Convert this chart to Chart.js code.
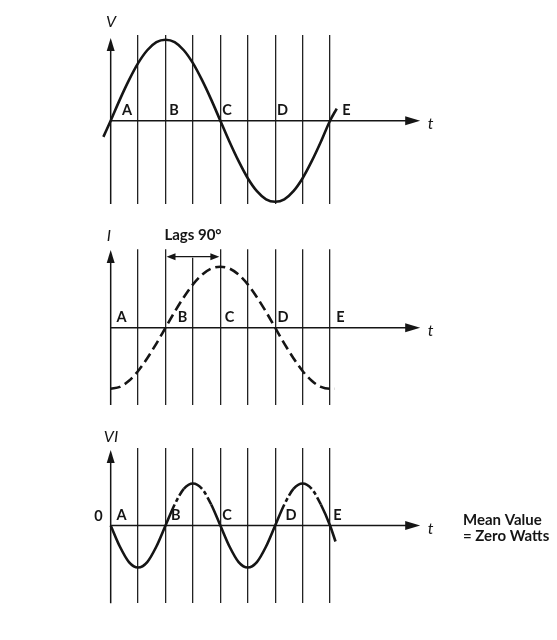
<!DOCTYPE html>
<html>
<head>
<meta charset="utf-8">
<script src="https://cdn.jsdelivr.net/npm/chart.js@4"></script>
<style>
  html, body { margin: 0; padding: 0; background: #fff; }
  #wrap { position: relative; width: 557px; height: 640px; }
  #wrap canvas { position: absolute; left: 0; top: 0; }
</style>
</head>
<body>
<div id="wrap">
  <canvas id="c-v" width="557" height="640"></canvas>
  <canvas id="c-i" width="557" height="640"></canvas>
  <canvas id="c-vi" width="557" height="640"></canvas>
</div>
<script>
// Phase angle (degrees) along the time axis, and the values

const vAngles = [-12, 0, 15, 30, 45, 60, 75, 90, 105, 120, 135, 150, 165, 180,
  195, 210, 225, 240, 255, 270, 285, 300, 315, 330, 345, 360, 371];
const vValues = [-0.2, 0, 0.26, 0.5, 0.71, 0.87, 0.97, 1, 0.97, 0.87, 0.71, 0.5, 0.26, 0,
  -0.26, -0.5, -0.71, -0.87, -0.97, -1, -0.97, -0.87, -0.71, -0.5, -0.26, 0, 0.15];

const iAngles = [0, 15, 30, 45, 60, 75, 90, 105, 120, 135, 150, 165, 180,
  195, 210, 225, 240, 255, 270, 285, 300, 315, 330, 345, 360, 368];
const iValues = [-1, -0.97, -0.87, -0.71, -0.5, -0.26, 0, 0.26, 0.5, 0.71, 0.87, 0.97, 1,
  0.97, 0.87, 0.71, 0.5, 0.26, 0, -0.26, -0.5, -0.71, -0.87, -0.97, -1, -1];

const viAngles = [0, 15, 30, 45, 60, 75, 90, 105, 120, 135, 150, 165, 180,
  195, 210, 225, 240, 255, 270, 285, 300, 315, 330, 345, 360, 369];
const viValues = [0, -0.5, -0.87, -1, -0.87, -0.5, 0, 0.5, 0.87, 1, 0.87, 0.5, 0,
  -0.5, -0.87, -1, -0.87, -0.5, 0, 0.5, 0.87, 1, 0.87, 0.5, 0, -0.38];

// vertical reference lines every 45 degrees
const gridAngles = [45, 90, 135, 180, 225, 270, 315, 360];
const pointLetters = ['A', 'B', 'C', 'D', 'E'];

const INK = '#151515';

// ── PANEL LAYOUT ─────────────────────────────────────────
const panels = [
  { id: 'c-v', angles: vAngles, values: vValues, title: 'V', titleX: 111, titleY: 22,
    top: 35, bottom: 204, zero: 120.7, amp: 81, axisTip: 38,
    letterAt: [27, 104, 191, 282, 387], dash: [] },
  { id: 'c-i', angles: iAngles, values: iValues, title: 'I', titleX: 109, titleY: 236,
    top: 249.3, bottom: 405, zero: 327.7, amp: 61, axisTip: 250,
    letterAt: [18, 118, 195, 283, 377], dash: [10, 5], lags: true },
  { id: 'c-vi', angles: viAngles, values: viValues, title: 'VI', titleX: 111, titleY: 437,
    top: 448, bottom: 603.3, zero: 525.5, amp: 42, axisTip: 450,
    letterAt: [18, 107, 191, 296, 372], dash: [], zeroMark: true, note: true },
];

function arrowHead(ctx, x, y, dir, len, half) {
  ctx.beginPath();
  ctx.moveTo(x, y);
  if (dir === 'up') {
    ctx.lineTo(x - half, y + len);
    ctx.lineTo(x + half, y + len);
  } else if (dir === 'right') {
    ctx.lineTo(x - len, y - half);
    ctx.lineTo(x - len, y + half);
  } else {
    ctx.lineTo(x + len, y - half);
    ctx.lineTo(x + len, y + half);
  }
  ctx.closePath();
  ctx.fill();
}

const axesPlugin = {
  id: 'axes',
  beforeDatasetsDraw(chart) {
    const p = chart.config.options.panel;
    const { ctx, chartArea } = chart;
    const x = chart.scales.x, y = chart.scales.y;
    const x0 = x.getPixelForValue(0);
    const y0 = y.getPixelForValue(0);
    const tipX = x.getPixelForValue(508);

    ctx.save();
    ctx.strokeStyle = INK;
    ctx.fillStyle = INK;
    ctx.lineWidth = 1.5;

    ctx.beginPath();
    ctx.moveTo(x0, p.axisTip + 8);
    ctx.lineTo(x0, chartArea.bottom);
    ctx.moveTo(x0, y0);
    ctx.lineTo(tipX - 10, y0);
    ctx.stroke();
    arrowHead(ctx, x0, p.axisTip, 'up', 13, 4);
    arrowHead(ctx, tipX, y0, 'right', 15, 4.5);

    if (p.lags) {
      const xa = x.getPixelForValue(90), xb = x.getPixelForValue(180);
      const xm = x.getPixelForValue(135);
      const ya = 256.7;
      // the middle line stops short of the arrow
      ctx.fillStyle = '#fff';
      ctx.fillRect(xm - 2, chartArea.top - 1, 4, ya + 2 - chartArea.top);
      ctx.fillStyle = INK;
      ctx.lineWidth = 1.3;
      ctx.beginPath();
      ctx.moveTo(xa + 6, ya);
      ctx.lineTo(xb - 6, ya);
      ctx.stroke();
      arrowHead(ctx, xa + 1, ya, 'left', 9, 3.5);
      arrowHead(ctx, xb - 1, ya, 'right', 9, 3.5);
    }
    ctx.restore();
  },
  afterDraw(chart) {
    const p = chart.config.options.panel;
    const { ctx } = chart;
    const x = chart.scales.x, y = chart.scales.y;
    const y0 = y.getPixelForValue(0);

    ctx.save();
    ctx.fillStyle = INK;
    ctx.textAlign = 'center';
    ctx.textBaseline = 'middle';

    ctx.font = 'bold 14.5px Lato';
    pointLetters.forEach((letter, i) => {
      ctx.fillText(letter, x.getPixelForValue(p.letterAt[i]), y0 - 10);
    });
    if (p.zeroMark) ctx.fillText('0', x.getPixelForValue(-20), y0 - 9);

    ctx.font = 'italic 16px Lato';
    ctx.fillText(p.title, p.titleX, p.titleY);
    ctx.fillText('t', x.getPixelForValue(525), y0 + 3);

    if (p.lags) {
      ctx.font = 'bold 15px Lato';
      ctx.fillText('Lags 90°', 193, 235);
    }
    if (p.note) {
      ctx.font = 'bold 15px Lato';
      ctx.textAlign = 'left';
      ctx.fillText('Mean Value', 463, 520);
      ctx.fillText('= Zero Watts', 463, 536);
    }
    ctx.restore();
  },
};

// positive lobes of VI are broken near the shoulders
function shoulderBreak(seg) {
  const a = seg.p0.parsed.y, b = seg.p1.parsed.y;
  return Math.min(a, b) > 0.3 && Math.max(a, b) < 0.95 ? [0, 3, 4, 3, 100] : undefined;
}

panels.forEach(p => {
  new Chart(document.getElementById(p.id), {
    type: 'line',
    data: {
      datasets: [{
        data: p.angles.map((a, i) => ({ x: a, y: p.values[i] })),
        borderColor: INK,
        borderWidth: 2.6,
        borderDash: p.dash,
        pointRadius: 0,
        cubicInterpolationMode: 'monotone',
        fill: false,
        segment: p.id === 'c-vi' ? { borderDash: shoulderBreak } : undefined,
      }],
    },
    options: {
      panel: p,
      responsive: false,
      animation: false,
      events: [],
      layout: {
        padding: { left: 98.5, right: 214.8, top: p.top, bottom: 640 - p.bottom },
      },
      scales: {
        x: {
          type: 'linear',
          min: -20,
          max: 380,
          afterBuildTicks: scale => {
            scale.ticks = gridAngles.map(v => ({ value: v }));
          },
          ticks: { display: false },
          border: { display: false },
          grid: { color: '#222', lineWidth: 1.3, drawTicks: false },
        },
        y: {
          display: false,
          min: -(p.bottom - p.zero) / p.amp,
          max: (p.zero - p.top) / p.amp,
        },
      },
      plugins: {
        legend: { display: false },
        tooltip: { enabled: false },
      },
    },
    plugins: [axesPlugin],
  });
});
</script>
</body>
</html>
